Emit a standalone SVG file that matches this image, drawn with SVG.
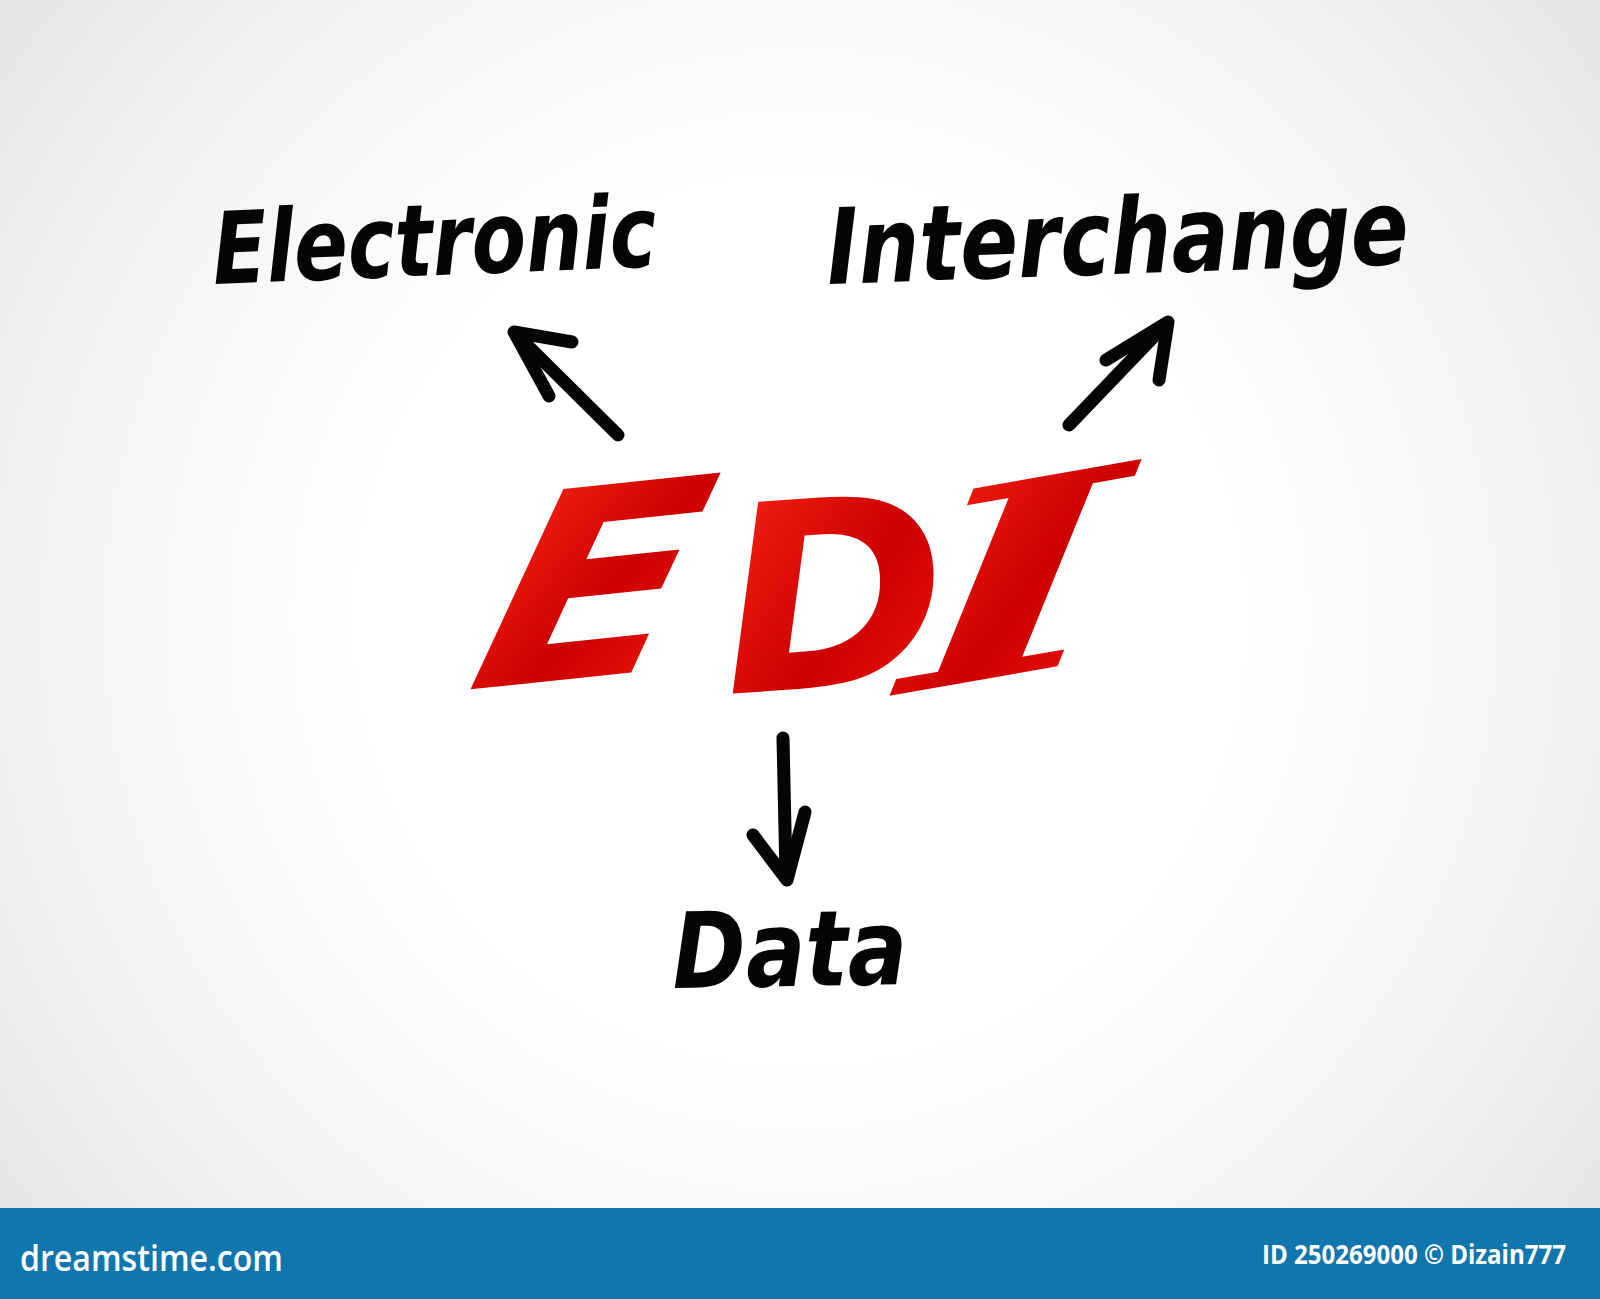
<svg xmlns="http://www.w3.org/2000/svg" width="1600" height="1299" viewBox="0 0 1600 1299">
<defs>
<radialGradient id="bg" cx="800" cy="620" r="980" gradientUnits="userSpaceOnUse">
<stop offset="0" stop-color="#ffffff"/>
<stop offset="0.45" stop-color="#ffffff"/>
<stop offset="0.8" stop-color="#f2f2f3"/>
<stop offset="1" stop-color="#e6e6e8"/>
</radialGradient>
<linearGradient id="red" x1="0" y1="0" x2="1" y2="1">
<stop offset="0" stop-color="#ff2a16"/>
<stop offset="0.55" stop-color="#cc0000"/>
<stop offset="1" stop-color="#f51a0c"/>
</linearGradient>
<style>
.hw{font-family:"DejaVu Sans","Liberation Sans",sans-serif;font-weight:bold;font-style:oblique;fill:#050505}
.edi{font-family:"DejaVu Sans","Liberation Sans",sans-serif;font-weight:bold;font-style:oblique;fill:url(#red);font-size:260px}
.edis{font-family:"DejaVu Serif","Liberation Serif",serif;font-weight:bold;font-style:italic;fill:url(#red);font-size:260px}
.arrow{fill:none;stroke:#050505;stroke-width:13;stroke-linecap:round;stroke-linejoin:round}
.foot{font-family:"Open Sans","Liberation Sans",sans-serif;fill:#ffffff}
</style>
</defs>
<rect x="0" y="0" width="1600" height="1299" fill="url(#bg)"/>
<g id="node-electronic">
<text class="hw" transform="translate(214,284) rotate(-2.3)" font-size="100" textLength="444" lengthAdjust="spacingAndGlyphs">Electronic</text>
</g>
<g id="node-interchange">
<text class="hw" transform="translate(828,284) rotate(-2)" font-size="105" textLength="582" lengthAdjust="spacingAndGlyphs">Interchange</text>
</g>
<g id="node-edi">
<text class="edi" transform="translate(464,690) rotate(-6) skewX(-20) scale(1.2,1)">E</text>
<text class="edi" transform="translate(727,694) rotate(-4) scale(1.05,1)">D</text>
<text class="edis" transform="translate(900,694) rotate(-10) skewX(-16) scale(1.75,1)">I</text>
</g>
<g id="node-data">
<text class="hw" transform="translate(673,988) rotate(-1)" font-size="105" textLength="235" lengthAdjust="spacingAndGlyphs">Data</text>
</g>
<g id="connectors">
<path class="arrow" d="M618,435 L520,338"/>
<path class="arrow" d="M572,342 L514,332 L549,396"/>
<path class="arrow" d="M1069,425 L1164,326"/>
<path class="arrow" d="M1106,360 L1168,322 L1159,380"/>
<path class="arrow" d="M783,738 L786,875"/>
<path class="arrow" d="M753,835 L787,880 L805,812"/>
</g>
<g id="footer">
<rect x="0" y="1208" width="1600" height="91" fill="#1176ad"/>
<text class="foot" x="20" y="1271" font-size="36" font-weight="600" textLength="263" lengthAdjust="spacingAndGlyphs">dreamstime.com</text>
<text class="foot" x="1262" y="1264" font-size="26" font-weight="bold" font-family="Roboto,'Liberation Sans',sans-serif" textLength="304" lengthAdjust="spacingAndGlyphs">ID 250269000 © Dizain777</text>
</g>
</svg>
